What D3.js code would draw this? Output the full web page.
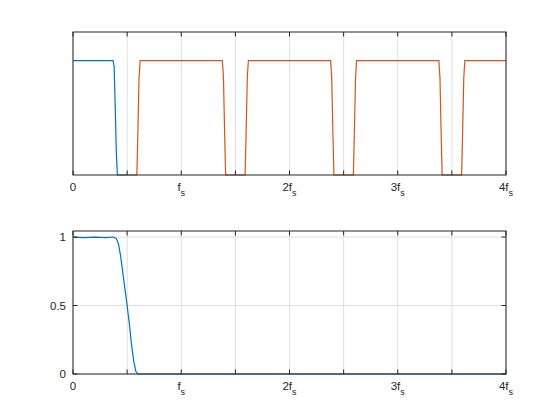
<!DOCTYPE html>
<html><head><meta charset="utf-8">
<script src="https://cdn.jsdelivr.net/npm/d3@7"></script>
<style>body{margin:0;background:#fff}text{font-family:"Liberation Sans",Arial,sans-serif;font-size:11.5px;fill:#262626}</style>
</head><body><div id="chart"></div>
<script>
// frequency in multiples of fs
const xTicks = [0, 0.5, 1, 1.5, 2, 2.5, 3, 3.5, 4];
const xTickLabels = {0: "0", 1: "", 2: "2", 3: "3", 4: "4"};
const bottomYTicks = [0, 0.5, 1];

const topBlueF = [0, 0.37, 0.38, 0.39, 0.40, 0.41, 0.5];
const topBlueY = [1, 1, 0.95, 0.6, 0.2, 0, 0];

const topOrangeF = [0.5, 0.59, 0.60, 0.61, 0.62, 1.38, 1.39, 1.40, 1.41, 1.59, 1.60, 1.61, 1.62,
  2.38, 2.39, 2.40, 2.41, 2.59, 2.60, 2.61, 2.62, 3.38, 3.39, 3.40, 3.41, 3.59, 3.60, 3.61, 3.62, 4];
const topOrangeY = [0, 0, 0.4, 0.85, 1, 1, 0.85, 0.4, 0, 0, 0.4, 0.85, 1,
  1, 0.85, 0.4, 0, 0, 0.4, 0.85, 1, 1, 0.85, 0.4, 0, 0, 0.4, 0.85, 1, 1];

const bottomF = [0, 0.1, 0.2, 0.3, 0.37, 0.4, 0.42, 0.44, 0.46, 0.48, 0.5, 0.52, 0.54, 0.56, 0.58, 0.6, 4];
const bottomY = [1, 0.995, 1, 0.995, 1, 0.99, 0.95, 0.86, 0.74, 0.62, 0.5, 0.37, 0.22, 0.1, 0.02, 0, 0];

const W = 560, H = 420;
const svg = d3.select("#chart").append("svg").attr("width", W).attr("height", H);

function panel(top, bottom, yMax, yTicks, series) {
  const x = d3.scaleLinear().domain([0, 4]).range([73, 506]);
  const y = d3.scaleLinear().domain([0, yMax]).range([bottom, top]);
  const g = svg.append("g");
  // grid
  g.selectAll(".gx").data(xTicks).enter().append("line")
    .attr("x1", d => x(d)).attr("x2", d => x(d)).attr("y1", top).attr("y2", bottom)
    .attr("stroke", "#dfdfdf").attr("stroke-width", 1);
  g.selectAll(".gy").data(yTicks).enter().append("line")
    .attr("x1", 73).attr("x2", 506).attr("y1", d => y(d)).attr("y2", d => y(d))
    .attr("stroke", "#dfdfdf").attr("stroke-width", 1);
  // lines
  series.forEach(s => {
    const pts = s.f.map((f, i) => [f, s.v[i]]);
    g.append("path").datum(pts)
      .attr("d", d3.line().x(d => x(d[0])).y(d => y(d[1])))
      .attr("fill", "none").attr("stroke", s.color).attr("stroke-width", 1.2);
  });
  // box
  g.append("rect").attr("x", 73).attr("y", top).attr("width", 433).attr("height", bottom - top)
    .attr("fill", "none").attr("stroke", "#262626").attr("stroke-width", 1);
  // x ticks (inward, top and bottom)
  xTicks.forEach(t => {
    g.append("line").attr("x1", x(t)).attr("x2", x(t)).attr("y1", bottom).attr("y2", bottom - 4.5).attr("stroke", "#262626");
    g.append("line").attr("x1", x(t)).attr("x2", x(t)).attr("y1", top).attr("y2", top + 4.5).attr("stroke", "#262626");
    if (t in xTickLabels) {
      const tx = g.append("text").attr("x", x(t)).attr("y", bottom + 16).attr("text-anchor", "middle");
      if (t === 0) tx.text("0");
      else {
        tx.append("tspan").text(xTickLabels[t] + "f");
        tx.append("tspan").attr("dy", 5).attr("font-size", "9px").text("s");
      }
    }
  });
  yTicks.forEach(t => {
    g.append("line").attr("x1", 73).attr("x2", 77.5).attr("y1", y(t)).attr("y2", y(t)).attr("stroke", "#262626");
    g.append("line").attr("x1", 506).attr("x2", 501.5).attr("y1", y(t)).attr("y2", y(t)).attr("stroke", "#262626");
    g.append("text").attr("x", 66).attr("y", y(t) + 4).attr("text-anchor", "end").text(d3.format("")(t));
  });
}

panel(32, 175, 1.25, [], [
  {f: topBlueF, v: topBlueY, color: "#0072BD"},
  {f: topOrangeF, v: topOrangeY, color: "#D95319"}
]);
panel(231, 374, 1.044, bottomYTicks, [
  {f: bottomF, v: bottomY, color: "#0072BD"}
]);
</script></body></html>
